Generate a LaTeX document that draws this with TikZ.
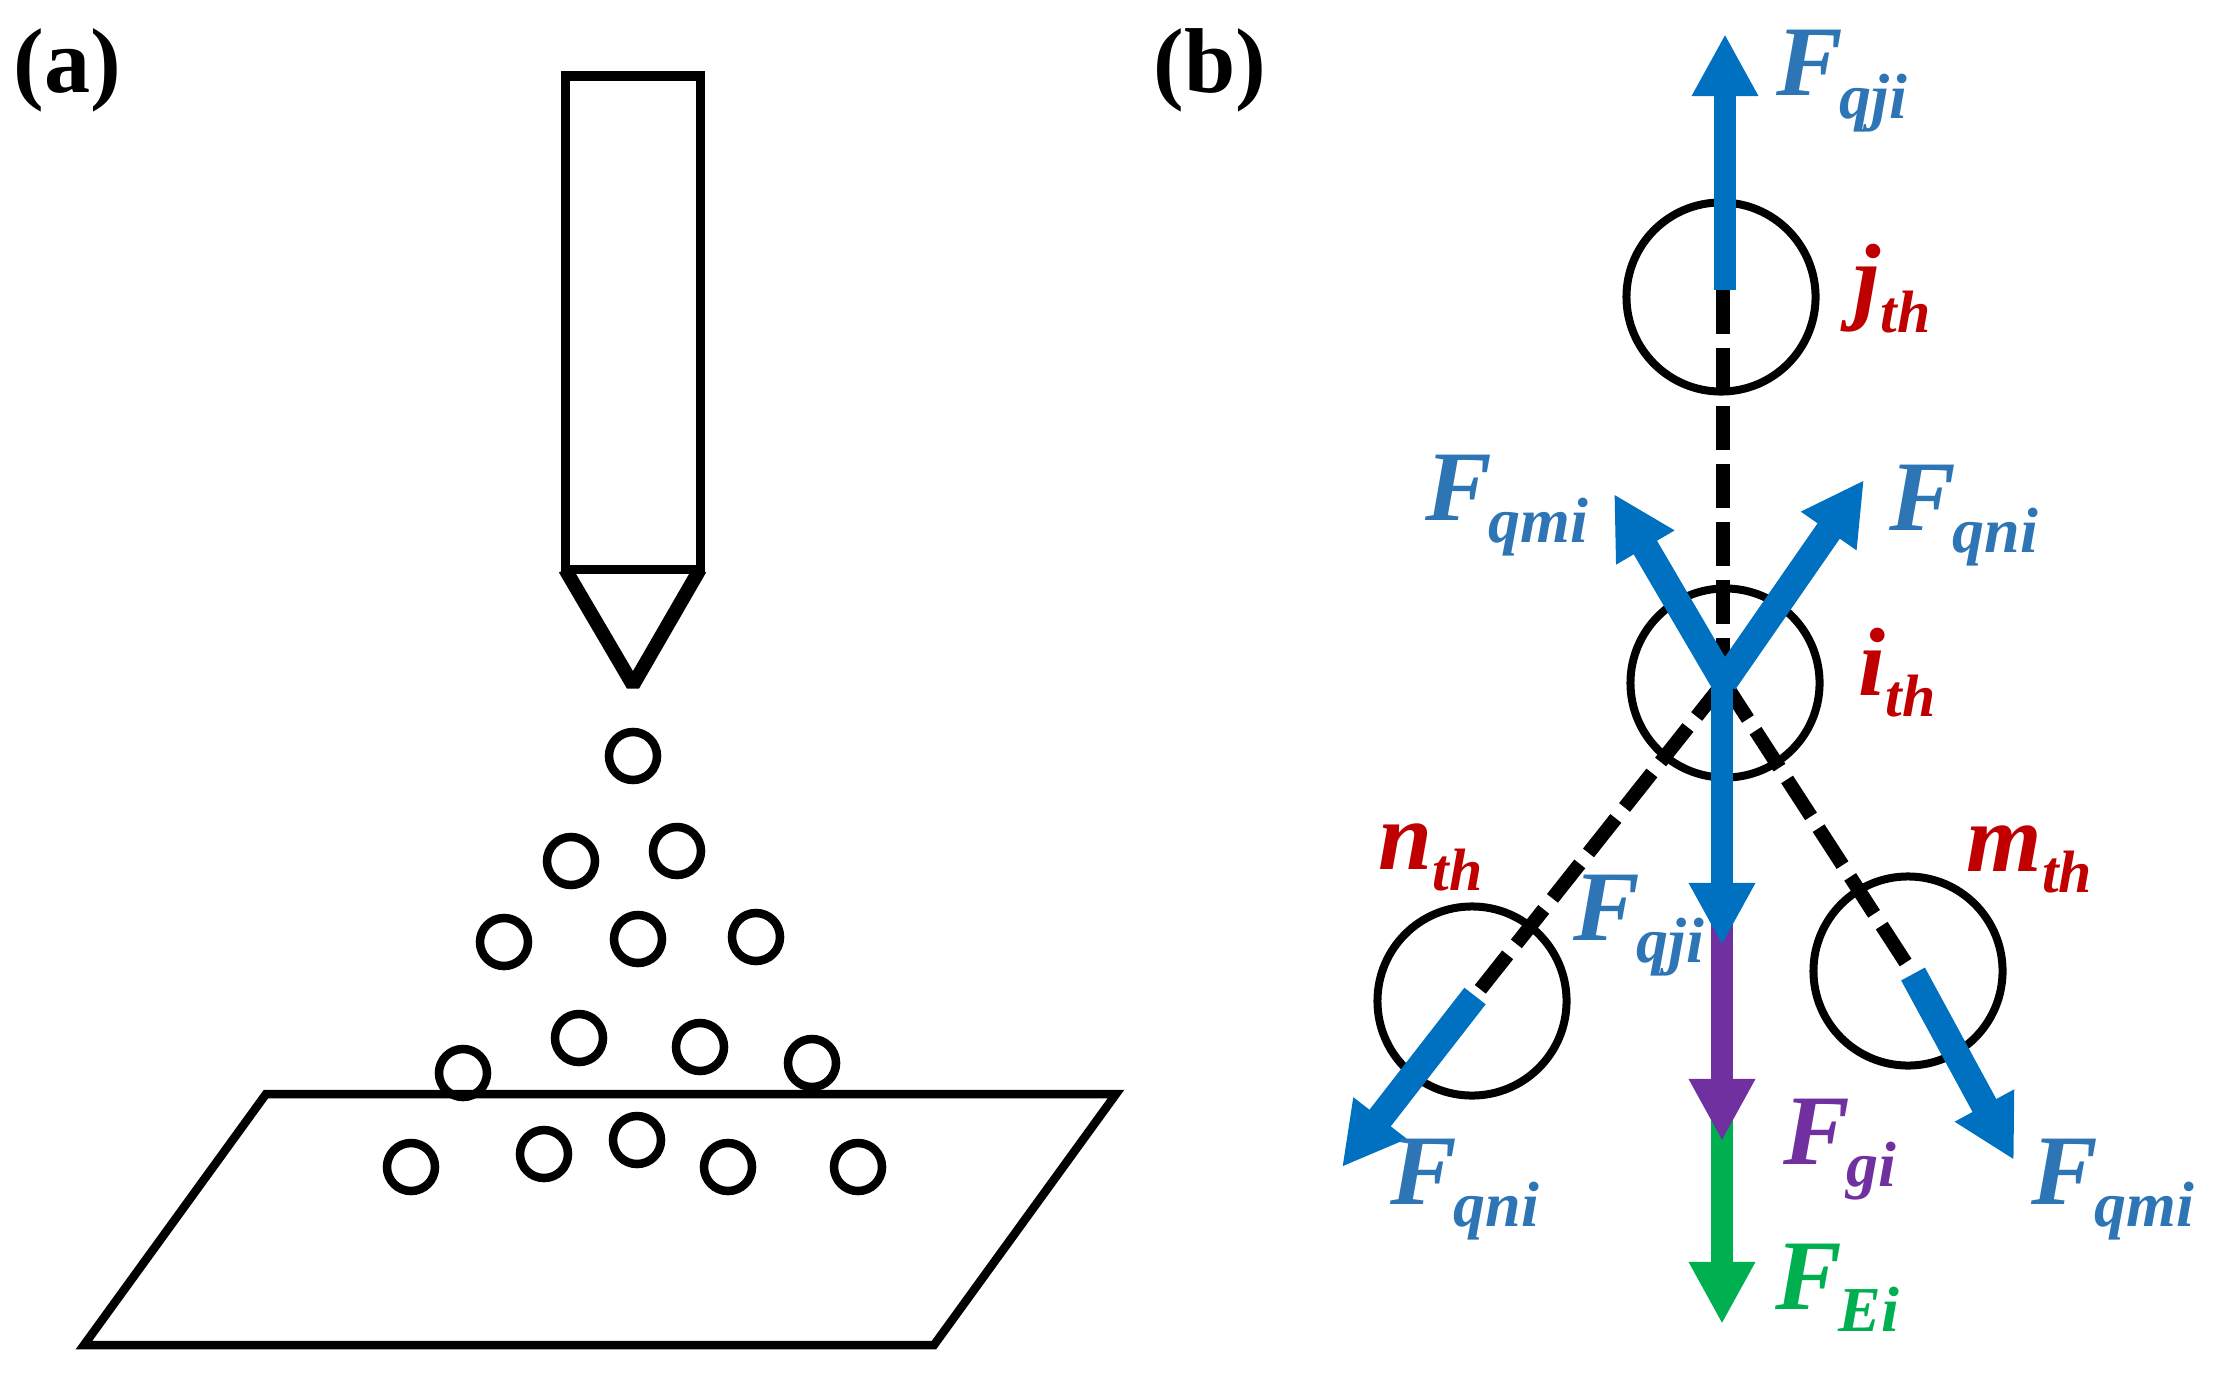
\documentclass[tikz,border=0pt]{standalone}
\usepackage{fontspec}
\setmainfont{Liberation Serif}
\usetikzlibrary{arrows.meta}
% F with subscript, and ordinal with "th"
\newcommand{\forcelab}[1]{{\fontsize{28.4}{30}\selectfont F}\hspace{-1pt}\raisebox{-6.3pt}{\fontsize{18.2}{20}\selectfont #1}}
\newcommand{\ordlab}[1]{{\fontsize{27.6}{30}\selectfont #1}\raisebox{-6pt}{\fontsize{17}{20}\selectfont th}}
\definecolor{arrowblue}{HTML}{0070C0}
\definecolor{labelblue}{HTML}{2E75B6}
\definecolor{ordred}{HTML}{C00000}
\definecolor{fpurple}{HTML}{7030A0}
\definecolor{fgreen}{HTML}{00B050}
\tikzset{
  ball/.style={circle, draw=black, line width=0.8mm, minimum size=18.9mm, inner sep=0pt},
  drop/.style={circle, draw=black, line width=0.85mm, minimum size=4.8mm, inner sep=0pt},
  force/.style={line width=2.15mm, -{Triangle[length=6.2mm,width=6.2mm]}},
  dforce/.style={line width=2.7mm, -{Triangle[length=6.2mm,width=6.3mm]}, draw=arrowblue, fill=arrowblue},
  bond/.style={line width=1.4mm, draw=black, dash pattern=on 4.4mm off 1.4mm},
  lab/.style={anchor=base west, inner sep=0pt, font=\bfseries\itshape},
  panel/.style={anchor=base west, inner sep=0pt, font=\fontsize{26.2}{28}\selectfont\bfseries},
}
\begin{document}
\begin{tikzpicture}[x=0.01cm, y=-0.01cm]
\useasboundingbox (0,0) rectangle (2225,1382);

% (a) needle
\node[panel] (pa) at (13,93) {(a)};
\draw[line width=0.9mm] (565,76) rectangle (700,569);
\draw[line width=1.4mm, line join=bevel] (565,569) -- (633,685) -- (700,569);

% substrate
\draw[line width=0.85mm, line join=miter] (266,1094) -- (1116,1094) -- (934,1345) -- (84,1345) -- cycle;

% droplets
\node[drop] (d1) at (633,756) {};
\node[drop] (d2) at (571,861) {};
\node[drop] (d3) at (677,851) {};
\node[drop] (d4) at (504,942) {};
\node[drop] (d5) at (638,939) {};
\node[drop] (d6) at (756,937) {};
\node[drop] (d7) at (463,1073) {};
\node[drop] (d8) at (579,1038) {};
\node[drop] (d9) at (700,1047) {};
\node[drop] (d10) at (812,1063) {};
\node[drop] (d11) at (411,1167) {};
\node[drop] (d12) at (544,1154) {};
\node[drop] (d13) at (637,1140) {};
\node[drop] (d14) at (728,1167) {};
\node[drop] (d15) at (858,1167) {};

% (b) particles
\node[panel] (pb) at (1153,93) {(b)};
\node[ball] (jc) at (1721,297) {};
\node[ball] (ic) at (1725,683) {};
\node[ball] (nc) at (1472,1001) {};
\node[ball] (mc) at (1908,971) {};

\coordinate (jtop) at (1725,34);
\coordinate (jst) at (1725,290);
\coordinate (itop) at (1723,290);
\coordinate (ibot) at (1723,682);
\coordinate (o) at (1724,682);
\coordinate (ob) at (1722,682);
\coordinate (mtipu) at (1614,494);
\coordinate (ntipu) at (1864,480);
\coordinate (nst) at (1475,996);
\coordinate (ntip) at (1342,1167);
\coordinate (mst) at (1913,974);
\coordinate (mtip) at (2014,1160);
\coordinate (qtip) at (1722,945);
\coordinate (qst) at (1722,923);
\coordinate (gtip) at (1722,1141);
\coordinate (gst) at (1722,1119);
\coordinate (etip) at (1722,1324);

% bonds
\draw[bond] (itop) -- (ibot);
\draw[bond] (o) -- (nst);
\draw[bond] (o) -- (mst);

% forces
\draw[force, draw=fgreen, fill=fgreen] (gst) -- (etip);
\draw[force, draw=fpurple, fill=fpurple] (qst) -- (gtip);
\draw[force, draw=arrowblue, fill=arrowblue] (jst) -- (jtop);
\draw[dforce] (o) -- (mtipu);
\draw[dforce] (o) -- (ntipu);
\draw[force, draw=arrowblue, fill=arrowblue] (ob) -- (qtip);
\draw[dforce] (nst) -- (ntip);
\draw[dforce] (mst) -- (mtip);

% labels
\node[lab, text=labelblue] (l1) at (1776,96) {\forcelab{qji}};
\node[lab, text=labelblue] (l2) at (1425,520) {\forcelab{qmi}};
\node[lab, text=labelblue] (l3) at (1889,530) {\forcelab{qni}};
\node[lab, text=labelblue] (l4) at (1573,940) {\forcelab{qji}};
\node[lab, text=fpurple] (l5) at (1783,1164) {\forcelab{gi}};
\node[lab, text=fgreen] (l6) at (1775,1309) {\forcelab{Ei}};
\node[lab, text=labelblue] (l7) at (1390,1204) {\forcelab{qni}};
\node[lab, text=labelblue] (l8) at (2031,1204) {\forcelab{qmi}};
\node[lab, text=ordred] (r1) at (1853,311) {\ordlab{j}};
\node[lab, text=ordred] (r2) at (1858,695) {\ordlab{i}};
\node[lab, text=ordred] (r3) at (1378,869) {\ordlab{n}};
\node[lab, text=ordred] (r4) at (1966,871) {\ordlab{m}};
\end{tikzpicture}
\end{document}
